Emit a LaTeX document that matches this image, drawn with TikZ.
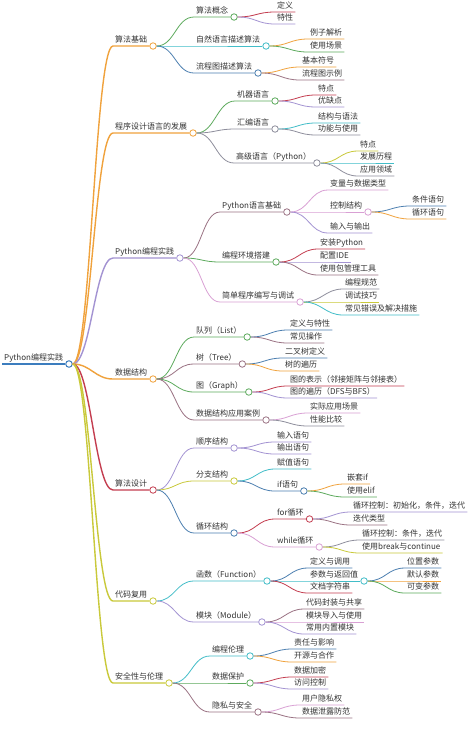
\documentclass[tikz,border=0pt]{standalone}
\usepackage{fontspec}
\setmainfont{Noto Sans CJK SC}
\definecolor{cRoot}{HTML}{3C7DBE}
\definecolor{cOrange}{HTML}{F0A23C}
\definecolor{cGreen}{HTML}{5DAA5D}
\definecolor{cTeal}{HTML}{42BDC8}
\definecolor{cBlue}{HTML}{4C7FB0}
\definecolor{cRed}{HTML}{C43E50}
\definecolor{cLav}{HTML}{A393D2}
\definecolor{cMauve}{HTML}{9B7384}
\definecolor{cPink}{HTML}{D9A0D4}
\definecolor{cGray}{HTML}{8E8E9C}
\definecolor{cOlive}{HTML}{C9C93A}

\begin{document}
\begin{tikzpicture}[
    x=1pt, y=-1pt,
    every node/.style={font=\fontsize{8}{9}\selectfont, text=black!80},
    topic/.style={anchor=south west, inner xsep=2pt, inner ysep=1.5pt, text height=6pt, text depth=1.5pt},
    dot/.style={circle, draw, fill=white, inner sep=0pt, minimum size=6.5pt, line width=0.8pt, anchor=west},
    trunk/.style={line width=1.4pt},
    link/.style={line width=0.8pt},
    twig/.style={to path={.. controls +(18,0) and +(-18,0) .. (\tikztotarget) \tikztonodes}}
]
\path[use as bounding box, fill=white] (0,0) rectangle (474,740);

\node[topic] (root) at (2,364) {Python编程实践};
\draw[cRoot, line width=1.6pt] (root.south west) -- (root.south east) node[dot, line width=1pt] (root-o) {};

\node[topic] (basics) at (113,46) {算法基础};
\node[topic] (lang) at (113,133) {程序设计语言的发展};
\node[topic] (practice) at (113,258) {Python编程实践};
\node[topic] (ds) at (113,379) {数据结构};
\node[topic] (design) at (113,490) {算法设计};
\node[topic] (reuse) at (113,601) {代码复用};
\node[topic] (ethics) at (113,683) {安全性与伦理};
\draw[trunk, cOrange] (root-o.east) to[twig] (basics.south west) -- (basics.south east) node[dot] (basics-o) {};
\draw[trunk, cOrange] (root-o.east) to[twig] (lang.south west) -- (lang.south east) node[dot] (lang-o) {};
\draw[trunk, cLav] (root-o.east) to[twig] (practice.south west) -- (practice.south east) node[dot] (practice-o) {};
\draw[trunk, cOrange] (root-o.east) to[twig] (ds.south west) -- (ds.south east) node[dot] (ds-o) {};
\draw[trunk, cRed] (root-o.east) to[twig] (design.south west) -- (design.south east) node[dot] (design-o) {};
\draw[trunk, cOlive] (root-o.east) to[twig] (reuse.south west) -- (reuse.south east) node[dot] (reuse-o) {};
\draw[trunk, cOlive] (root-o.east) to[twig] (ethics.south west) -- (ethics.south east) node[dot] (ethics-o) {};

% 算法基础
\node[topic] (basics1) at (194,17) {算法概念};
\node[topic] (basics1a) at (275,12) {定义};
\node[topic] (basics1b) at (275,24) {特性};
\node[topic] (basics2) at (194,46) {自然语言描述算法};
\node[topic] (basics2a) at (308,39) {例子解析};
\node[topic] (basics2b) at (308,52) {使用场景};
\node[topic] (basics3) at (194,73) {流程图描述算法};
\node[topic] (basics3a) at (300,67) {基本符号};
\node[topic] (basics3b) at (300,80) {流程图示例};
\draw[link, cGreen] (basics-o.east) to[twig] (basics1.south west) -- (basics1.south east) node[dot] (basics1-o) {};
\draw[link, cRed] (basics1-o.east) to[twig] (basics1a.south west) -- (basics1a.south east);
\draw[link, cLav] (basics1-o.east) to[twig] (basics1b.south west) -- (basics1b.south east);
\draw[link, cTeal] (basics-o.east) to[twig] (basics2.south west) -- (basics2.south east) node[dot] (basics2-o) {};
\draw[link, cOrange] (basics2-o.east) to[twig] (basics2a.south west) -- (basics2a.south east);
\draw[link, cGreen] (basics2-o.east) to[twig] (basics2b.south west) -- (basics2b.south east);
\draw[link, cBlue] (basics-o.east) to[twig] (basics3.south west) -- (basics3.south east) node[dot] (basics3-o) {};
\draw[link, cOrange] (basics3-o.east) to[twig] (basics3a.south west) -- (basics3a.south east);
\draw[link, cMauve] (basics3-o.east) to[twig] (basics3b.south west) -- (basics3b.south east);

% 程序设计语言的发展
\node[topic] (lang1) at (235,101) {机器语言};
\node[topic] (lang1a) at (316,95) {特点};
\node[topic] (lang1b) at (316,107) {优缺点};
\node[topic] (lang2) at (235,129) {汇编语言};
\node[topic] (lang2a) at (316,123) {结构与语法};
\node[topic] (lang2b) at (316,135) {功能与使用};
\node[topic] (lang3) at (234,163) {高级语言（Python）};
\node[topic] (lang3a) at (358,151) {特点};
\node[topic] (lang3b) at (358,163) {发展历程};
\node[topic] (lang3c) at (358,176) {应用领域};
\draw[link, cGreen] (lang-o.east) to[twig] (lang1.south west) -- (lang1.south east) node[dot] (lang1-o) {};
\draw[link, cRed] (lang1-o.east) to[twig] (lang1a.south west) -- (lang1a.south east);
\draw[link, cLav] (lang1-o.east) to[twig] (lang1b.south west) -- (lang1b.south east);
\draw[link, cGray] (lang-o.east) to[twig] (lang2.south west) -- (lang2.south east) node[dot] (lang2-o) {};
\draw[link, cTeal] (lang2-o.east) to[twig] (lang2a.south west) -- (lang2a.south east);
\draw[link, cGray] (lang2-o.east) to[twig] (lang2b.south west) -- (lang2b.south east);
\draw[link, cGray] (lang-o.east) to[twig] (lang3.south west) -- (lang3.south east) node[dot] (lang3-o) {};
\draw[link, cOlive] (lang3-o.east) to[twig] (lang3a.south west) -- (lang3a.south east);
\draw[link, cTeal] (lang3-o.east) to[twig] (lang3b.south west) -- (lang3b.south east);
\draw[link, cGray] (lang3-o.east) to[twig] (lang3c.south west) -- (lang3c.south east);

% Python编程实践
\node[topic] (practice1) at (220,212) {Python语言基础};
\node[topic] (practice1a) at (328,190) {变量与数据类型};
\node[topic] (practice1b) at (328,212) {控制结构};
\node[topic] (practice1b1) at (410,206) {条件语句};
\node[topic] (practice1b2) at (410,219) {循环语句};
\node[topic] (practice1c) at (328,233) {输入与输出};
\node[topic] (practice2) at (220,262) {编程环境搭建};
\node[topic] (practice2a) at (318,249) {安装Python};
\node[topic] (practice2b) at (318,262) {配置IDE};
\node[topic] (practice2c) at (318,275) {使用包管理工具};
\node[topic] (practice3) at (220,302) {简单程序编写与调试};
\node[topic] (practice3a) at (343,289) {编程规范};
\node[topic] (practice3b) at (343,302) {调试技巧};
\node[topic] (practice3c) at (343,315) {常见错误及解决措施};
\draw[link, cMauve] (practice-o.east) to[twig] (practice1.south west) -- (practice1.south east) node[dot] (practice1-o) {};
\draw[link, cPink] (practice1-o.east) to[twig] (practice1a.south west) -- (practice1a.south east);
\draw[link, cPink] (practice1-o.east) to[twig] (practice1b.south west) -- (practice1b.south east) node[dot] (practice1b-o) {};
\draw[link, cBlue] (practice1b-o.east) to[twig] (practice1b1.south west) -- (practice1b1.south east);
\draw[link, cOrange] (practice1b-o.east) to[twig] (practice1b2.south west) -- (practice1b2.south east);
\draw[link, cLav] (practice1-o.east) to[twig] (practice1c.south west) -- (practice1c.south east);
\draw[link, cGreen] (practice-o.east) to[twig] (practice2.south west) -- (practice2.south east) node[dot] (practice2-o) {};
\draw[link, cRed] (practice2-o.east) to[twig] (practice2a.south west) -- (practice2a.south east);
\draw[link, cLav] (practice2-o.east) to[twig] (practice2b.south west) -- (practice2b.south east);
\draw[link, cMauve] (practice2-o.east) to[twig] (practice2c.south west) -- (practice2c.south east);
\draw[link, cPink] (practice-o.east) to[twig] (practice3.south west) -- (practice3.south east) node[dot] (practice3-o) {};
\draw[link, cGray] (practice3-o.east) to[twig] (practice3a.south west) -- (practice3a.south east);
\draw[link, cOlive] (practice3-o.east) to[twig] (practice3b.south west) -- (practice3b.south east);
\draw[link, cTeal] (practice3-o.east) to[twig] (practice3c.south west) -- (practice3c.south east);

% 数据结构
\node[topic] (ds1) at (194,337) {队列（List）};
\node[topic] (ds1a) at (288,330) {定义与特性};
\node[topic] (ds1b) at (288,343) {常见操作};
\node[topic] (ds2) at (194,364) {树（Tree）};
\node[topic] (ds2a) at (283,358) {二叉树定义};
\node[topic] (ds2b) at (283,371) {树的遍历};
\node[topic] (ds3) at (194,392) {图（Graph）};
\node[topic] (ds3a) at (288,386) {图的表示（邻接矩阵与邻接表）};
\node[topic] (ds3b) at (288,398) {图的遍历（DFS与BFS）};
\node[topic] (ds4) at (194,420) {数据结构应用案例};
\node[topic] (ds4a) at (308,413) {实际应用场景};
\node[topic] (ds4b) at (308,426) {性能比较};
\draw[link, cGreen] (ds-o.east) to[twig] (ds1.south west) -- (ds1.south east) node[dot] (ds1-o) {};
\draw[link, cBlue] (ds1-o.east) to[twig] (ds1a.south west) -- (ds1a.south east);
\draw[link, cMauve] (ds1-o.east) to[twig] (ds1b.south west) -- (ds1b.south east);
\draw[link, cMauve] (ds-o.east) to[twig] (ds2.south west) -- (ds2.south east) node[dot] (ds2-o) {};
\draw[link, cBlue] (ds2-o.east) to[twig] (ds2a.south west) -- (ds2a.south east);
\draw[link, cOrange] (ds2-o.east) to[twig] (ds2b.south west) -- (ds2b.south east);
\draw[link, cGreen] (ds-o.east) to[twig] (ds3.south west) -- (ds3.south east) node[dot] (ds3-o) {};
\draw[link, cRed] (ds3-o.east) to[twig] (ds3a.south west) -- (ds3a.south east);
\draw[link, cLav] (ds3-o.east) to[twig] (ds3b.south west) -- (ds3b.south east);
\draw[link, cMauve] (ds-o.east) to[twig] (ds4.south west) -- (ds4.south east) node[dot] (ds4-o) {};
\draw[link, cPink] (ds4-o.east) to[twig] (ds4a.south west) -- (ds4a.south east);
\draw[link, cGray] (ds4-o.east) to[twig] (ds4b.south west) -- (ds4b.south east);

% 算法设计
\node[topic] (design1) at (194,448) {顺序结构};
\node[topic] (design1a) at (275,442) {输入语句};
\node[topic] (design1b) at (275,454) {输出语句};
\node[topic] (design2) at (194,481) {分支结构};
\node[topic] (design2a) at (275,469) {赋值语句};
\node[topic] (design2b) at (275,491) {if语句};
\node[topic] (design2b1) at (345,484) {嵌套if};
\node[topic] (design2b2) at (345,497) {使用elif};
\node[topic] (design3) at (194,533) {循环结构};
\node[topic] (design3a) at (275,519) {for循环};
\node[topic] (design3a1) at (351,512) {循环控制：初始化，条件，迭代};
\node[topic] (design3a2) at (351,525) {迭代类型};
\node[topic] (design3b) at (275,547) {while循环};
\node[topic] (design3b1) at (360,540) {循环控制：条件，迭代};
\node[topic] (design3b2) at (360,553) {使用break与continue};
\draw[link, cLav] (design-o.east) to[twig] (design1.south west) -- (design1.south east) node[dot] (design1-o) {};
\draw[link, cLav] (design1-o.east) to[twig] (design1a.south west) -- (design1a.south east);
\draw[link, cLav] (design1-o.east) to[twig] (design1b.south west) -- (design1b.south east);
\draw[link, cOlive] (design-o.east) to[twig] (design2.south west) -- (design2.south east) node[dot] (design2-o) {};
\draw[link, cTeal] (design2-o.east) to[twig] (design2a.south west) -- (design2a.south east);
\draw[link, cBlue] (design2-o.east) to[twig] (design2b.south west) -- (design2b.south east) node[dot] (design2b-o) {};
\draw[link, cOrange] (design2b-o.east) to[twig] (design2b1.south west) -- (design2b1.south east);
\draw[link, cGreen] (design2b-o.east) to[twig] (design2b2.south west) -- (design2b2.south east);
\draw[link, cBlue] (design-o.east) to[twig] (design3.south west) -- (design3.south east) node[dot] (design3-o) {};
\draw[link, cRed] (design3-o.east) to[twig] (design3a.south west) -- (design3a.south east) node[dot] (design3a-o) {};
\draw[link, cLav] (design3a-o.east) to[twig] (design3a1.south west) -- (design3a1.south east);
\draw[link, cMauve] (design3a-o.east) to[twig] (design3a2.south west) -- (design3a2.south east);
\draw[link, cPink] (design3-o.east) to[twig] (design3b.south west) -- (design3b.south east) node[dot] (design3b-o) {};
\draw[link, cGray] (design3b-o.east) to[twig] (design3b1.south west) -- (design3b1.south east);
\draw[link, cOlive] (design3b-o.east) to[twig] (design3b2.south west) -- (design3b2.south east);

% 代码复用
\node[topic] (reuse1) at (194,581) {函数（Function）};
\node[topic] (reuse1a) at (308,568) {定义与调用};
\node[topic] (reuse1b) at (308,581) {参数与返回值};
\node[topic] (reuse1b1) at (405,568) {位置参数};
\node[topic] (reuse1b2) at (405,581) {默认参数};
\node[topic] (reuse1b3) at (405,593) {可变参数};
\node[topic] (reuse1c) at (308,593) {文档字符串};
\node[topic] (reuse2) at (194,622) {模块（Module）};
\node[topic] (reuse2a) at (304,609) {代码封装与共享};
\node[topic] (reuse2b) at (304,622) {模块导入与使用};
\node[topic] (reuse2c) at (304,634) {常用内置模块};
\draw[link, cTeal] (reuse-o.east) to[twig] (reuse1.south west) -- (reuse1.south east) node[dot] (reuse1-o) {};
\draw[link, cBlue] (reuse1-o.east) to[twig] (reuse1a.south west) -- (reuse1a.south east);
\draw[link, cTeal] (reuse1-o.east) to[twig] (reuse1b.south west) -- (reuse1b.south east) node[dot] (reuse1b-o) {};
\draw[link, cBlue] (reuse1b-o.east) to[twig] (reuse1b1.south west) -- (reuse1b1.south east);
\draw[link, cOrange] (reuse1b-o.east) to[twig] (reuse1b2.south west) -- (reuse1b2.south east);
\draw[link, cGreen] (reuse1b-o.east) to[twig] (reuse1b3.south west) -- (reuse1b3.south east);
\draw[link, cRed] (reuse1-o.east) to[twig] (reuse1c.south west) -- (reuse1c.south east);
\draw[link, cLav] (reuse-o.east) to[twig] (reuse2.south west) -- (reuse2.south east) node[dot] (reuse2-o) {};
\draw[link, cMauve] (reuse2-o.east) to[twig] (reuse2a.south west) -- (reuse2a.south east);
\draw[link, cPink] (reuse2-o.east) to[twig] (reuse2b.south west) -- (reuse2b.south east);
\draw[link, cLav] (reuse2-o.east) to[twig] (reuse2c.south west) -- (reuse2c.south east);

% 安全性与伦理
\node[topic] (ethics1) at (210,656) {编程伦理};
\node[topic] (ethics1a) at (292,649) {责任与影响};
\node[topic] (ethics1b) at (292,662) {开源与合作};
\node[topic] (ethics2) at (210,683) {数据保护};
\node[topic] (ethics2a) at (292,677) {数据加密};
\node[topic] (ethics2b) at (292,689) {访问控制};
\node[topic] (ethics3) at (210,712) {隐私与安全};
\node[topic] (ethics3a) at (300,705) {用户隐私权};
\node[topic] (ethics3b) at (300,718) {数据泄露防范};
\draw[link, cTeal] (ethics-o.east) to[twig] (ethics1.south west) -- (ethics1.south east) node[dot] (ethics1-o) {};
\draw[link, cBlue] (ethics1-o.east) to[twig] (ethics1a.south west) -- (ethics1a.south east);
\draw[link, cOrange] (ethics1-o.east) to[twig] (ethics1b.south west) -- (ethics1b.south east);
\draw[link, cGreen] (ethics-o.east) to[twig] (ethics2.south west) -- (ethics2.south east) node[dot] (ethics2-o) {};
\draw[link, cRed] (ethics2-o.east) to[twig] (ethics2a.south west) -- (ethics2a.south east);
\draw[link, cLav] (ethics2-o.east) to[twig] (ethics2b.south west) -- (ethics2b.south east);
\draw[link, cMauve] (ethics-o.east) to[twig] (ethics3.south west) -- (ethics3.south east) node[dot] (ethics3-o) {};
\draw[link, cPink] (ethics3-o.east) to[twig] (ethics3a.south west) -- (ethics3a.south east);
\draw[link, cMauve] (ethics3-o.east) to[twig] (ethics3b.south west) -- (ethics3b.south east);
\end{tikzpicture}
\end{document}
